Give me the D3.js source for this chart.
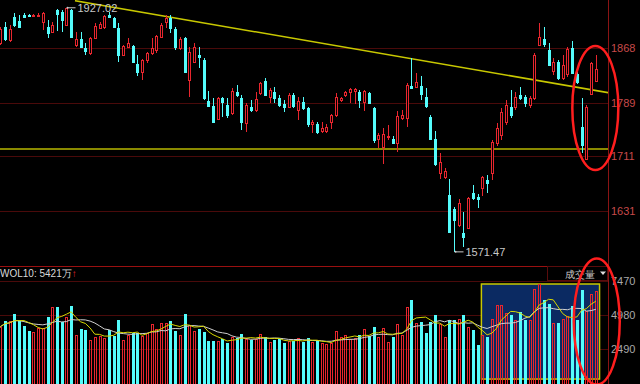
<!DOCTYPE html>
<html>
<head>
<meta charset="utf-8">
<script src="https://cdn.jsdelivr.net/npm/d3@7/dist/d3.min.js"></script>
<style>
  html, body { margin: 0; padding: 0; background: #000; overflow: hidden; }
  svg { display: block; font-family: "Liberation Sans", Arial, sans-serif; }
</style>
</head>
<body>
<div id="chart"></div>
<script>
// Daily candles (index level)
const opens = [
  1875.8, 1899.1, 1880.1, 1913.6, 1907.8, 1916.5, 1915.8, 1915.1, 1915.1, 1906.4,
  1899.1, 1891.8, 1923.8, 1920.9, 1902.0, 1923.8, 1872.8, 1881.6, 1868.5, 1861.2,
  1883.0, 1897.6, 1899.1, 1916.5, 1912.2, 1897.6, 1858.3, 1869.9, 1871.4, 1845.2,
  1833.5, 1851.0, 1861.2, 1865.6, 1884.5, 1906.4, 1912.2, 1896.2, 1868.5, 1883.0,
  1821.9, 1848.1, 1858.3, 1851.0, 1791.3, 1784.0, 1765.1, 1795.6, 1785.4, 1773.8,
  1804.4, 1795.6, 1759.2, 1782.5, 1778.2, 1802.9, 1820.4, 1797.1, 1804.4, 1795.6,
  1786.9, 1782.5, 1800.0, 1778.2, 1789.8, 1781.1, 1757.8, 1757.8, 1747.6, 1747.6,
  1760.7, 1770.9, 1792.7, 1800.0, 1804.4, 1805.8, 1804.4, 1789.8, 1802.9, 1781.1,
  1735.9, 1724.3, 1738.8, 1735.9, 1730.1, 1766.5, 1766.5, 1813.1, 1811.7, 1813.1,
  1797.1, 1768.0, 1735.9, 1686.4, 1680.6, 1654.4, 1634.0, 1610.6, 1599.0, 1606.3,
  1657.3, 1651.4, 1664.5, 1676.2, 1686.4, 1730.1, 1741.7, 1760.7, 1782.5, 1782.5,
  1800.0, 1797.1, 1785.4, 1795.6, 1872.8, 1881.6, 1865.6, 1835.0, 1848.1, 1824.8,
  1830.6, 1868.5, 1830.6, 1753.4, 1706.8, 1801.5, 1820.4
];
const highs = [
  1899.1, 1906.4, 1902.0, 1919.5, 1916.5, 1919.5, 1918.0, 1918.0, 1919.5, 1920.9,
  1909.3, 1906.4, 1925.3, 1923.8, 1927.02, 1925.3, 1891.8, 1891.8, 1875.8, 1884.5,
  1904.9, 1906.4, 1916.5, 1920.9, 1913.6, 1904.9, 1872.8, 1883.0, 1872.8, 1858.3,
  1852.5, 1862.6, 1883.0, 1887.4, 1904.9, 1916.5, 1916.5, 1899.1, 1884.5, 1884.5,
  1869.9, 1875.8, 1869.9, 1853.9, 1805.8, 1795.6, 1797.1, 1797.1, 1795.6, 1810.2,
  1814.6, 1800.0, 1788.4, 1792.7, 1804.4, 1818.9, 1824.8, 1810.2, 1811.7, 1800.0,
  1792.7, 1802.9, 1802.9, 1797.1, 1797.1, 1782.5, 1763.6, 1760.7, 1760.7, 1757.8,
  1772.3, 1802.9, 1797.1, 1805.8, 1810.2, 1810.2, 1807.3, 1807.3, 1804.4, 1782.5,
  1744.7, 1751.9, 1756.3, 1740.3, 1776.7, 1778.2, 1817.5, 1853.9, 1832.1, 1827.7,
  1810.2, 1770.9, 1747.6, 1715.5, 1693.7, 1677.6, 1636.9, 1648.5, 1629.6, 1651.4,
  1668.9, 1655.8, 1682.0, 1683.5, 1734.5, 1759.2, 1781.1, 1792.7, 1807.3, 1804.4,
  1811.7, 1800.0, 1798.6, 1861.2, 1904.9, 1899.1, 1875.8, 1853.9, 1851.0, 1858.3,
  1869.9, 1878.7, 1833.5, 1795.6, 1785.4, 1848.1, 1858.3
];
const lows = [
  1872.8, 1878.7, 1877.2, 1899.1, 1897.6, 1912.2, 1913.6, 1913.6, 1913.6, 1894.7,
  1883.0, 1890.3, 1893.2, 1891.8, 1900.5, 1883.0, 1869.9, 1868.5, 1858.3, 1858.3,
  1881.6, 1896.2, 1896.2, 1912.2, 1897.6, 1848.1, 1856.8, 1868.5, 1846.6, 1827.7,
  1821.9, 1846.6, 1858.3, 1861.2, 1883.0, 1897.6, 1890.3, 1865.6, 1865.6, 1832.1,
  1797.1, 1846.6, 1839.3, 1792.7, 1782.5, 1759.2, 1763.6, 1768.0, 1766.5, 1770.9,
  1797.1, 1749.0, 1746.1, 1775.2, 1775.2, 1800.0, 1798.6, 1788.4, 1788.4, 1782.5,
  1775.2, 1781.1, 1781.1, 1763.6, 1778.2, 1753.4, 1744.7, 1743.2, 1744.7, 1744.7,
  1750.5, 1768.0, 1789.8, 1797.1, 1788.4, 1786.9, 1781.1, 1776.7, 1786.9, 1730.1,
  1722.8, 1699.5, 1734.5, 1728.6, 1717.0, 1763.6, 1753.4, 1808.7, 1810.2, 1792.7,
  1781.1, 1734.5, 1696.6, 1677.6, 1677.6, 1599.0, 1571.47, 1607.7, 1578.6, 1604.8,
  1647.1, 1635.4, 1652.9, 1657.3, 1676.2, 1725.7, 1734.5, 1756.3, 1766.5, 1778.2,
  1792.7, 1782.5, 1781.1, 1792.7, 1871.4, 1869.9, 1842.3, 1829.1, 1821.9, 1821.9,
  1826.2, 1830.6, 1816.0, 1715.5, 1705.3, 1800.0, 1818.9
];
const closes = [
  1896.2, 1881.6, 1896.2, 1902.0, 1899.1, 1913.6, 1914.4, 1916.5, 1916.5, 1919.5,
  1890.3, 1902.0, 1918.0, 1909.3, 1926.7, 1884.5, 1881.6, 1869.9, 1864.1, 1883.0,
  1900.5, 1903.4, 1915.1, 1913.6, 1899.1, 1858.3, 1871.4, 1875.8, 1848.1, 1833.5,
  1851.0, 1861.2, 1868.5, 1886.0, 1902.0, 1912.2, 1897.6, 1869.9, 1881.6, 1833.5,
  1862.6, 1869.9, 1855.4, 1795.6, 1784.0, 1760.7, 1795.6, 1789.8, 1770.9, 1805.8,
  1800.0, 1760.7, 1785.4, 1778.2, 1794.2, 1817.5, 1800.0, 1807.3, 1795.6, 1785.4,
  1782.5, 1800.0, 1784.0, 1791.3, 1781.1, 1757.8, 1760.7, 1746.1, 1751.9, 1753.4,
  1770.9, 1797.1, 1795.6, 1804.4, 1808.7, 1808.7, 1792.7, 1805.8, 1788.4, 1734.5,
  1741.7, 1743.2, 1740.3, 1730.1, 1769.4, 1770.9, 1814.6, 1810.2, 1818.9, 1801.5,
  1784.0, 1735.9, 1699.5, 1702.4, 1689.3, 1600.4, 1618.0, 1642.7, 1593.2, 1650.0,
  1650.0, 1648.5, 1680.6, 1671.8, 1731.5, 1751.9, 1775.2, 1785.4, 1770.9, 1797.1,
  1795.6, 1788.4, 1795.6, 1858.3, 1884.5, 1874.3, 1843.7, 1848.1, 1824.8, 1843.7,
  1867.0, 1832.1, 1818.9, 1727.2, 1782.5, 1846.6, 1837.9
];
// volume (万)
const volumes = [
  4131, 4567, 4545, 5031, 4567, 4182, 3841, 3768, 4015, 4015,
  4813, 5539, 5539, 4494, 4813, 5656, 3528, 3942, 3891, 3165,
  3405, 3456, 3332, 3891, 3456, 4617, 3165, 3528, 3695, 3695,
  3456, 3695, 4327, 3942, 4378, 4421, 4545, 3841, 3528, 5053,
  4254, 3841, 3942, 3768, 3115, 3093, 3071, 3216, 2969, 3405,
  3289, 3601, 3238, 3165, 3238, 3601, 3361, 3042, 3165, 3238,
  2926, 3115, 3093, 3289, 3042, 3289, 3042, 3093, 2926, 2875,
  2969, 3841, 3361, 3528, 3216, 3332, 3528, 3942, 3456, 4131,
  3361, 4015, 3042, 3361, 4305, 3528, 5539, 6069, 4378, 4494,
  3652, 4500, 5000, 4300, 3400, 4600, 4600, 4700, 5000, 4100,
  3900, 2800, 3500, 3400, 4700, 5700, 5700, 5100, 5000, 4600,
  5200, 4600, 4600, 6900, 7200, 6100, 5800, 4400, 4400, 4700,
  4900, 5600, 4600, 6800, 5300, 6500, 6700
];
const priceTicks = [1868, 1789, 1711, 1631];
const volTicks = [7470, 4980, 2490];
const trendLine = [[15.8, 1937.4], [128.6, 1803.4]];   // [bar index, price]
const supportPrice = 1721.4;
const volHeader = 'WOL10: 5421万';

const W = 640, H = 384, plotW = 608, mainBottom = 266;
const RED = '#e8262e', CYAN = '#54fcfc', GRID = '#4a0a0a';

const svg = d3.select('#chart').append('svg')
  .attr('width', W).attr('height', H);
svg.append('rect').attr('width', W).attr('height', H).attr('fill', '#000');

const n = opens.length;
const x = d3.scaleLinear().domain([0, n - 1]).range([0.3, 595.8]);
const y = d3.scaleLinear().domain([1631, 1868]).range([211, 48.3]);
const yv = d3.scaleLinear().domain([0, 7470]).range([383.6, 280.7]);
const cx = i => Math.round(x(i)) + 0.5;

const defs = svg.append('defs');
defs.append('clipPath').attr('id', 'clipMain')
  .append('rect').attr('width', plotW).attr('height', mainBottom);
defs.append('clipPath').attr('id', 'clipVol')
  .append('rect').attr('y', 281).attr('width', plotW).attr('height', 103);

// grid + labels, main panel
const gy = svg.append('g').attr('transform', `translate(${plotW},0)`)
  .call(d3.axisRight(y).tickValues(priceTicks).tickSize(-plotW).tickPadding(3)
    .tickFormat(d3.format('d')));
gy.select('.domain').remove();
gy.selectAll('line').attr('stroke', GRID).attr('shape-rendering', 'crispEdges');
gy.selectAll('text').attr('fill', '#c84a4a').attr('font-size', 11);

// grid + labels, volume panel
const gv = svg.append('g').attr('transform', `translate(${plotW},0)`)
  .call(d3.axisRight(yv).tickValues(volTicks).tickSize(-plotW).tickPadding(3)
    .tickFormat(d3.format('d')));
gv.select('.domain').remove();
gv.selectAll('line').attr('stroke', GRID).attr('shape-rendering', 'crispEdges');
gv.selectAll('text').attr('fill', '#a8a8a8').attr('font-size', 11);

// frame lines
svg.append('line').attr('x1', 0).attr('x2', plotW).attr('y1', mainBottom + 0.5).attr('y2', mainBottom + 0.5)
  .attr('stroke', '#9a1010');
svg.append('line').attr('x1', plotW + 0.5).attr('x2', plotW + 0.5).attr('y1', 0).attr('y2', H)
  .attr('stroke', '#8a1414');

// trend and support lines
const main = svg.append('g').attr('clip-path', 'url(#clipMain)');
main.append('line')
  .attr('x1', x(trendLine[0][0])).attr('y1', y(trendLine[0][1]))
  .attr('x2', x(trendLine[1][0])).attr('y2', y(trendLine[1][1]))
  .attr('stroke', '#c8c800').attr('stroke-width', 1.5);
main.append('line')
  .attr('x1', 0).attr('x2', plotW).attr('y1', y(supportPrice)).attr('y2', y(supportPrice))
  .attr('stroke', '#b8b800').attr('stroke-width', 1.5);

// candles
const up = i => closes[i] > opens[i];
const candles = main.append('g').attr('shape-rendering', 'crispEdges');
d3.range(n).forEach(i => {
  const c = cx(i);
  const top = y(Math.max(opens[i], closes[i]));
  const bot = y(Math.min(opens[i], closes[i]));
  const col = up(i) ? RED : CYAN;
  candles.append('line').attr('x1', c).attr('x2', c)
    .attr('y1', y(highs[i])).attr('y2', top).attr('stroke', col);
  candles.append('line').attr('x1', c).attr('x2', c)
    .attr('y1', bot).attr('y2', y(lows[i])).attr('stroke', col);
  if (up(i)) {
    candles.append('rect').attr('x', c - 1).attr('y', Math.round(top) + 0.5)
      .attr('width', 2).attr('height', Math.max(1, Math.round(bot - top)))
      .attr('fill', '#000').attr('stroke', RED);
  } else {
    candles.append('rect').attr('x', c - 1.5).attr('y', Math.round(top))
      .attr('width', 3).attr('height', Math.max(1, Math.round(bot - top) + 1))
      .attr('fill', CYAN);
  }
});

// high / low markers
const hiIdx = d3.maxIndex(highs), loIdx = d3.minIndex(lows);
[[hiIdx, highs[hiIdx]], [loIdx, lows[loIdx]]].forEach(([i, p]) => {
  const px = cx(i) + 1, py = y(p);
  main.append('circle').attr('cx', px).attr('cy', py).attr('r', 1).attr('fill', '#ccc');
  main.append('line').attr('x1', px).attr('x2', px + 8).attr('y1', py).attr('y2', py)
    .attr('stroke', '#ccc');
  main.append('text').attr('x', px + 10).attr('y', py).attr('dy', '0.35em')
    .attr('fill', '#c8c8c8').attr('font-size', 11).text(d3.format('.2f')(p));
});

// volume panel header
svg.append('text').attr('x', 0).attr('y', 277).attr('fill', '#d8d8d8').attr('font-size', 10)
  .text(volHeader)
  .append('tspan').attr('fill', RED).text('↑');
svg.append('rect').attr('x', 547.5).attr('y', 266.5).attr('width', 60).attr('height', 14)
  .attr('fill', 'none').attr('stroke', '#5a0c0c');
svg.append('text').attr('x', 565).attr('y', 277.5).attr('fill', '#c8c8c8').attr('font-size', 10)
  .text('成交量');
svg.append('path').attr('d', 'M600,271.5 h6 l-3,3.5 z').attr('fill', '#ddd');

// highlighted volume window
const vol = svg.append('g').attr('clip-path', 'url(#clipVol)');
vol.append('rect')
  .attr('x', x(101.9) - 0.5).attr('y', yv(7230))
  .attr('width', x(126.9) - x(101.9)).attr('height', yv(330) - yv(7230))
  .attr('fill', '#0b2a62').attr('stroke', '#c8c800').attr('stroke-width', 1.5);

// volume bars
const bars = vol.append('g').attr('shape-rendering', 'crispEdges');
d3.range(n).forEach(i => {
  const c = cx(i), t = Math.round(yv(volumes[i]));
  if (up(i)) {
    bars.append('rect').attr('x', c - 1).attr('y', t + 0.5).attr('width', 2)
      .attr('height', 390 - t).attr('fill', 'none').attr('stroke', RED);
  } else {
    bars.append('rect').attr('x', c - 1.5).attr('y', t).attr('width', 3)
      .attr('height', 390 - t).attr('fill', CYAN);
  }
});

// volume moving averages
const ma = k => volumes.map((v, i) => d3.mean(volumes.slice(Math.max(0, i - k + 1), i + 1)));
const maLine = d3.line().x((d, i) => x(i)).y(d => yv(d));
vol.append('path').datum(ma(10)).attr('d', maLine)
  .attr('fill', 'none').attr('stroke', '#d0d0d0').attr('stroke-width', 1);
vol.append('path').datum(ma(5)).attr('d', maLine)
  .attr('fill', 'none').attr('stroke', '#d8d800').attr('stroke-width', 1);

// red circled areas
svg.append('ellipse').attr('cx', x(125.9)).attr('cy', y(1781))
  .attr('rx', 23).attr('ry', 62)
  .attr('fill', 'none').attr('stroke', '#ff1e1e').attr('stroke-width', 2.5);
svg.append('ellipse').attr('cx', x(126.2)).attr('cy', yv(4500))
  .attr('rx', 23).attr('ry', 63)
  .attr('fill', 'none').attr('stroke', '#ff1e1e').attr('stroke-width', 2.5);
</script>
</body>
</html>
